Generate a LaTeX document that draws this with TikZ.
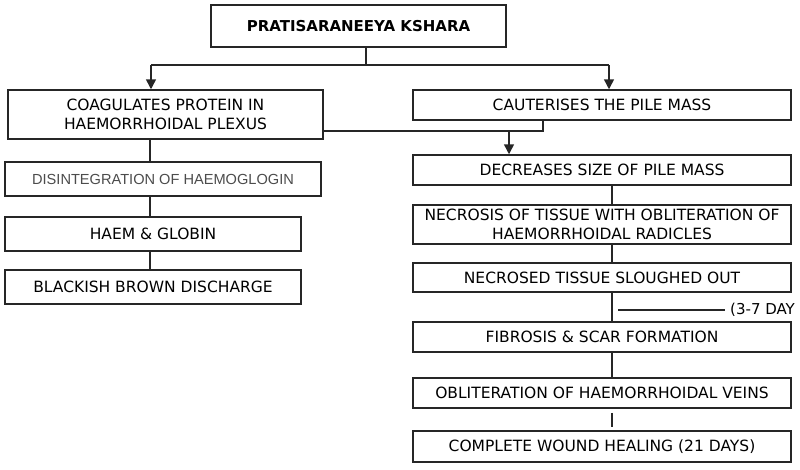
\documentclass[tikz,border=0pt]{standalone}
\usepackage{fontspec}
\setmainfont{DejaVu Sans}
\newfontfamily\arialf{Liberation Sans}
\usetikzlibrary{arrows.meta,calc}
\definecolor{ln}{HTML}{262626}
\begin{document}
\begin{tikzpicture}[x=1pt,y=-1pt,
  box/.style={draw=ln,line width=1.5pt,inner sep=0pt,align=center,fill=white,
    font=\fontsize{15.5}{19}\selectfont},
  conn/.style={draw=ln,line width=1.5pt},
  arr/.style={conn,-{Triangle[length=10pt,width=10pt]}}]
\useasboundingbox[fill=white] (0,0) rectangle (800,469);
% nodes
\node[box,minimum width=295pt,minimum height=42pt,font=\fontsize{15}{18}\selectfont\bfseries] (top) at (358.5,26) {PRATISARANEEYA KSHARA};
\node[box,minimum width=315pt,minimum height=49pt] (L1) at (165.5,114.5) {COAGULATES PROTEIN IN\\HAEMORRHOIDAL PLEXUS};
\node[box,minimum width=316pt,minimum height=34pt,font=\arialf\fontsize{14.6}{18}\selectfont\color{black!70}] (L2) at (163,179) {DISINTEGRATION OF HAEMOGLOGIN};
\node[box,minimum width=296pt,minimum height=34pt] (L3) at (153,234) {HAEM \& GLOBIN};
\node[box,minimum width=296pt,minimum height=34pt] (L4) at (153,287) {BLACKISH BROWN DISCHARGE};
\node[box,minimum width=378pt,minimum height=30pt] (R1) at (602,105) {CAUTERISES THE PILE MASS};
\node[box,minimum width=378pt,minimum height=30pt] (R2) at (602,170) {DECREASES SIZE OF PILE MASS};
\node[box,minimum width=378pt,minimum height=39pt] (R3) at (602,224.5) {NECROSIS OF TISSUE WITH OBLITERATION OF\\HAEMORRHOIDAL RADICLES};
\node[box,minimum width=378pt,minimum height=29pt] (R4) at (602,277.5) {NECROSED TISSUE SLOUGHED OUT};
\node[box,minimum width=378pt,minimum height=30pt] (R5) at (602,337) {FIBROSIS \& SCAR FORMATION};
\node[box,minimum width=378pt,minimum height=30pt] (R6) at (602,393) {OBLITERATION OF HAEMORRHOIDAL VEINS};
\node[box,minimum width=378pt,minimum height=31pt] (R7) at (602,446.5) {COMPLETE WOUND HEALING (21 DAYS)};
% coordinates
\coordinate (s) at (366,65);
\coordinate (aL) at (151,65);
\coordinate (aR) at (609,65);
\coordinate (j) at (543,131);
\coordinate (d) at (509,131);
\coordinate (lx) at (150,0);
\coordinate (rx) at (612,0);
\coordinate (t1) at (618,310);
\coordinate (t2) at (725,310);
% connectors
\draw[conn] (top.south -| s) -- (s);
\draw[conn] (aL) -- (aR);
\draw[arr] (aL) -- (aL |- L1.north);
\draw[arr] (aR) -- (aR |- R1.north);
\draw[conn] (L1.east |- j) -- (j) -- (j |- R1.south);
\draw[arr] (d) -- (d |- R2.north);
\draw[conn] (L1.south -| lx) -- (L2.north -| lx);
\draw[conn] (L2.south -| lx) -- (L3.north -| lx);
\draw[conn] (L3.south -| lx) -- (L4.north -| lx);
\draw[conn] (R2.south -| rx) -- (R3.north -| rx);
\draw[conn] (R3.south -| rx) -- (R4.north -| rx);
\draw[conn] (R4.south -| rx) -- (R5.north -| rx);
\draw[conn] (R5.south -| rx) -- (R6.north -| rx);
\draw[conn,shorten <=4pt,shorten >=3pt] (R6.south -| rx) -- (R7.north -| rx);
\draw[conn] (t1) -- (t2);
\node[anchor=west,inner sep=0pt,font=\fontsize{15}{18}\selectfont] (lab) at (730,310) {(3-7 DAY};
\end{tikzpicture}
\end{document}
